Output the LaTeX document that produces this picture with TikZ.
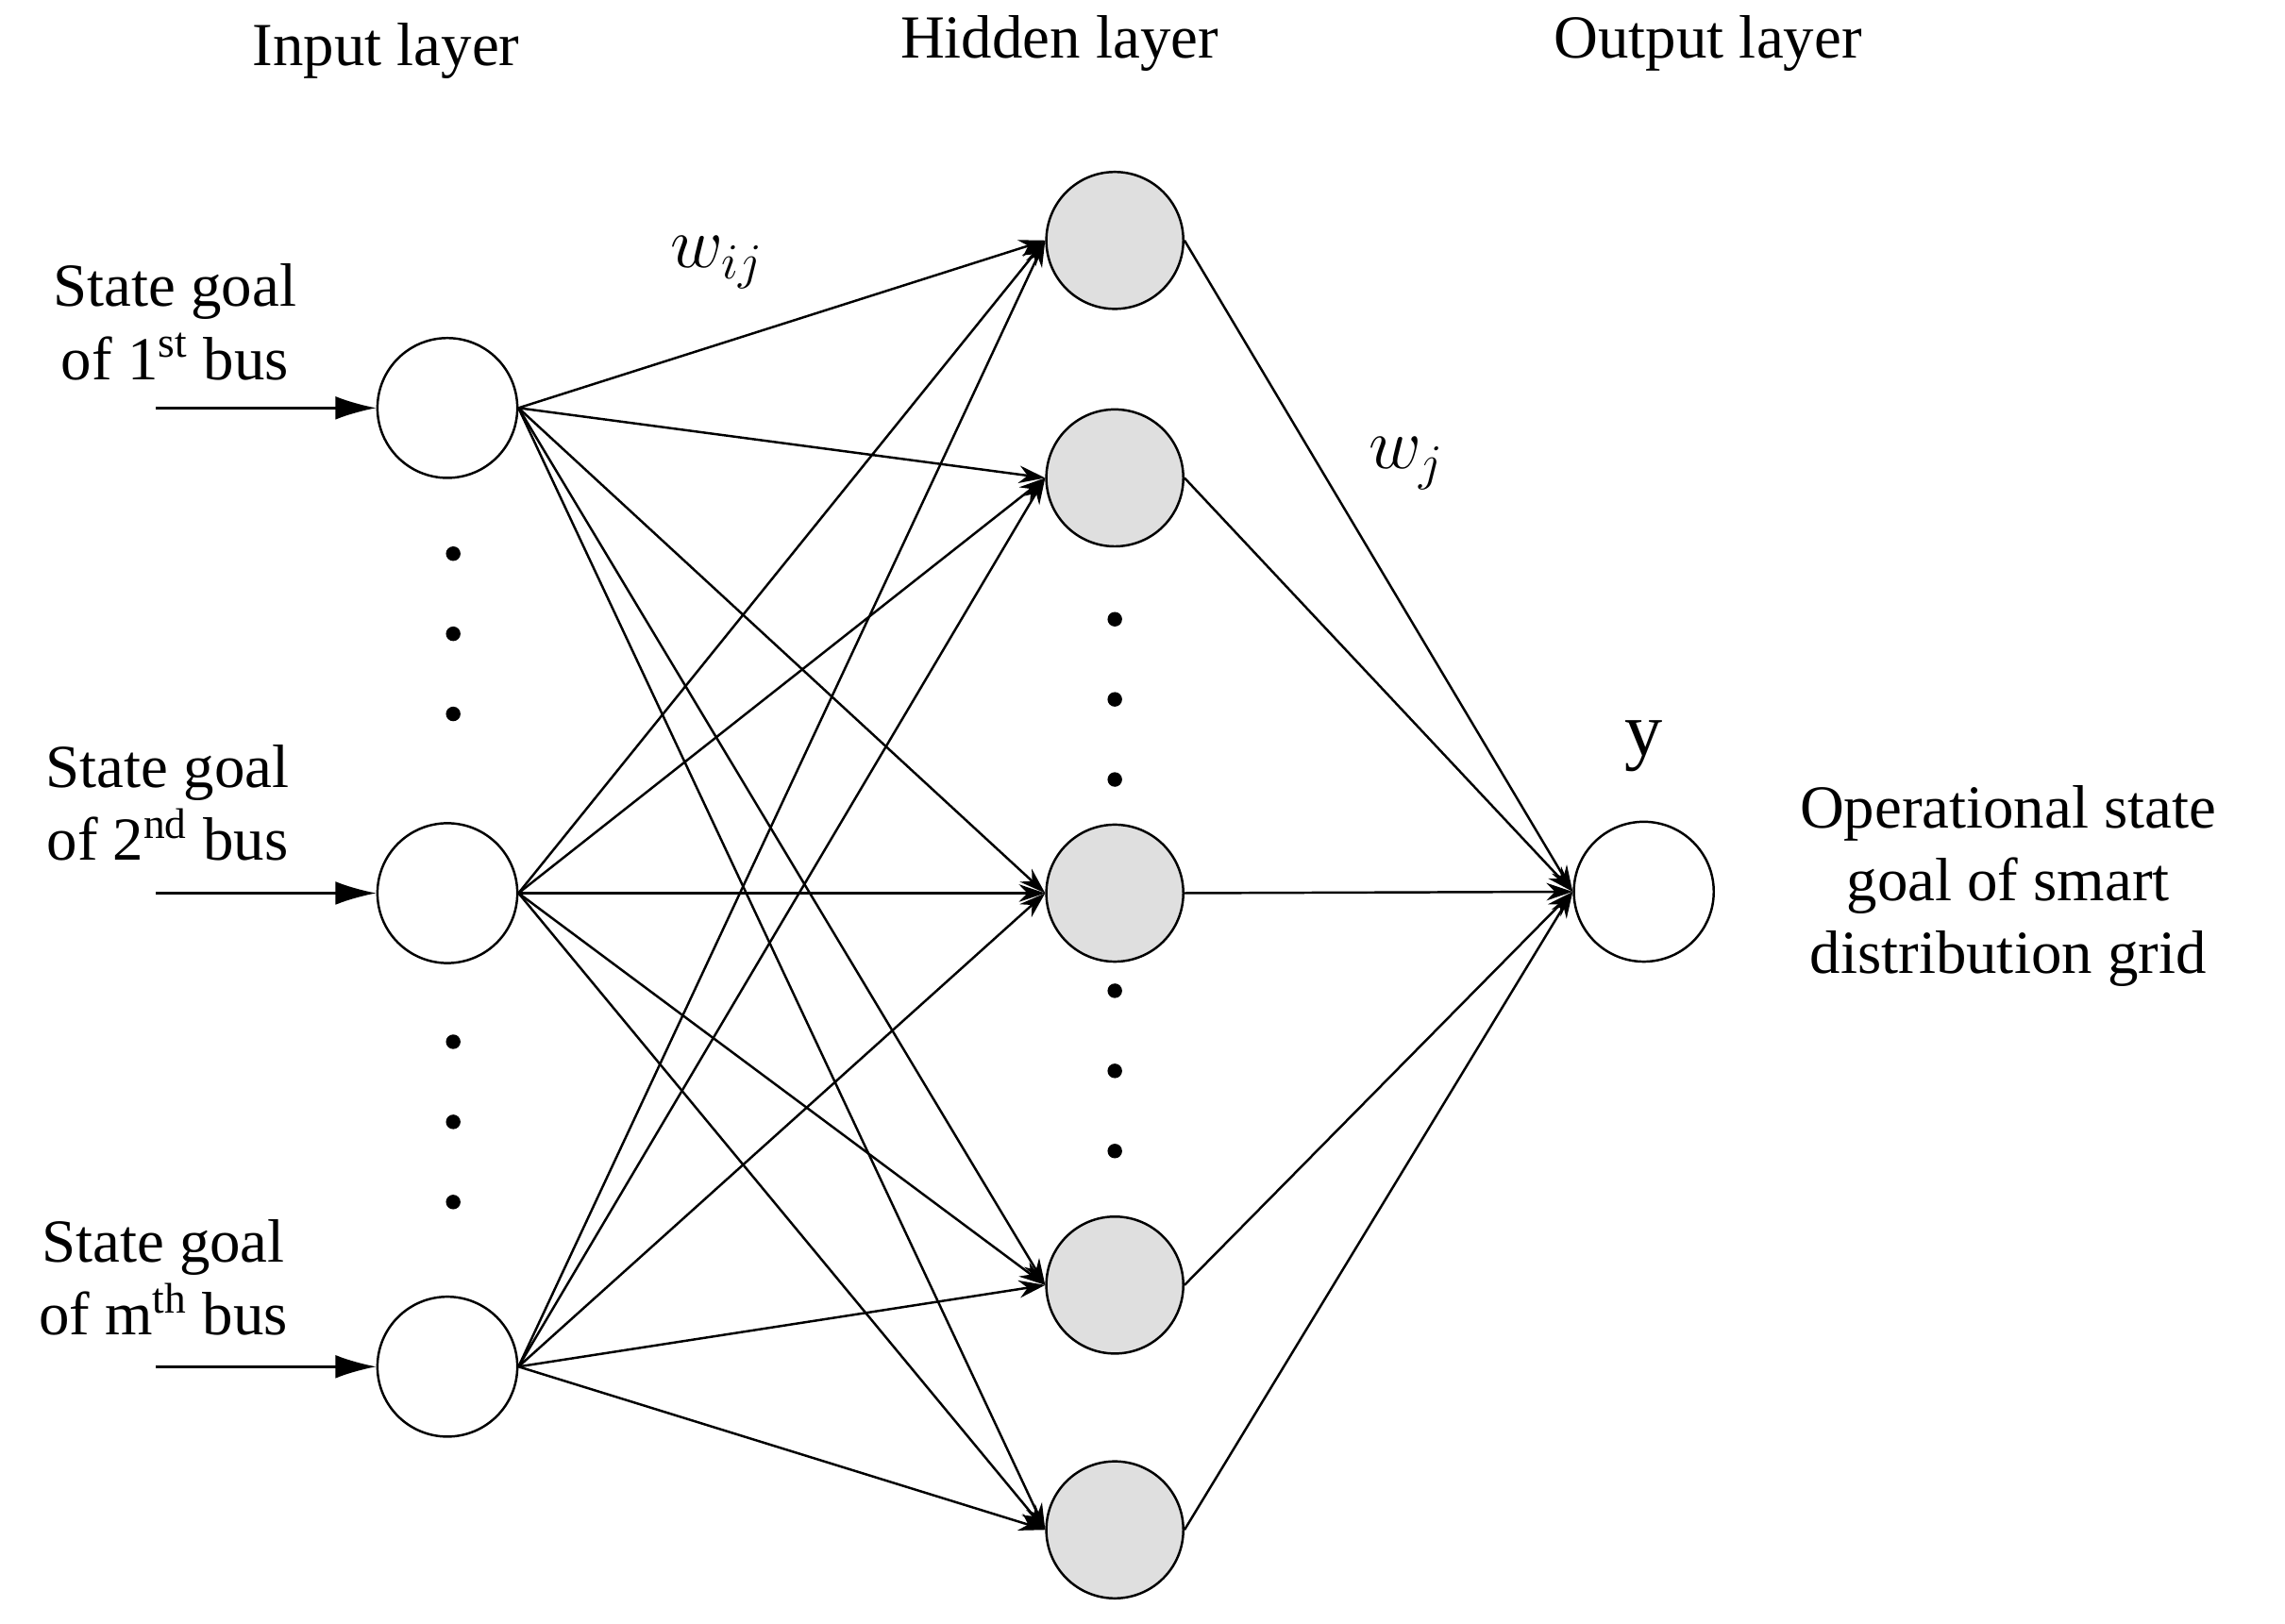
\documentclass[tikz,border=0pt]{standalone}
\usepackage{fontspec}
\setmainfont{Liberation Serif}
\usetikzlibrary{arrows.meta}
\begin{document}
\begin{tikzpicture}[x=0.5pt,y=-0.5pt,
 inn/.style={circle,draw,thick,minimum size=48pt,inner sep=0pt,fill=white},
 hid/.style={circle,draw,thick,minimum size=47pt,inner sep=0pt,fill=gray!25},
 con/.style={thick,-{Stealth[length=9pt,width=6pt]}},
 inp/.style={thick,-{Latex[length=14pt,width=8pt]}},
 lab/.style={font=\fontsize{21}{25}\selectfont},
 dot/.style={circle,fill,inner sep=0pt,minimum size=5pt}]
\useasboundingbox (0,0) rectangle (1568,1114);
\node[inn] (i1) at (307,280) {};
\node[inn] (i2) at (307,613) {};
\node[inn] (i3) at (307,938) {};
\node[hid] (h1) at (765,165) {};
\node[hid] (h2) at (765,328) {};
\node[hid] (h3) at (765,613) {};
\node[hid] (h4) at (765,882) {};
\node[hid] (h5) at (765,1050) {};
\node[inn] (o) at (1128,612) {};
\foreach \i in {1,2,3}{\foreach \h in {1,...,5}{\draw[con] (i\i.east) -- (h\h.west);}}
\foreach \h in {1,...,5}{\draw[con] (h\h.east) -- (o.west);}
\coordinate (s1) at (107,280); \coordinate (s2) at (107,613); \coordinate (s3) at (107,938);
\foreach \i in {1,2,3}{\draw[inp] (s\i) -- (i\i.west);}
\foreach \y [count=\k] in {380,435,490,715,770,825}{\node[dot] (d\k) at (311,\y) {};}
\foreach \y [count=\k] in {425,480,535,680,735,790}{\node[dot] (e\k) at (765,\y) {};}
\node[lab] (t1) at (265,35) {Input layer};
\node[lab] (t2) at (727,30) {Hidden layer};
\node[lab] (t3) at (1172,30) {Output layer};
\node[lab,align=center] (l1) at (120,221) {State goal\\of 1\textsuperscript{st} bus};
\node[lab,align=center] (l2) at (115,551) {State goal\\of 2\textsuperscript{nd} bus};
\node[lab,align=center] (l3) at (112,877) {State goal\\of m\textsuperscript{th} bus};
\node[lab,align=center] (r) at (1378,608) {Operational state\\goal of smart\\distribution grid};
\node[font=\fontsize{26}{30}\selectfont] (wij) at (492,180) {$w_{ij}$};
\node[font=\fontsize{26}{30}\selectfont] (wj) at (965,318) {$w_j$};
\node[font=\fontsize{26}{30}\selectfont] (y) at (1128,512) {y};
\end{tikzpicture}
\end{document}
